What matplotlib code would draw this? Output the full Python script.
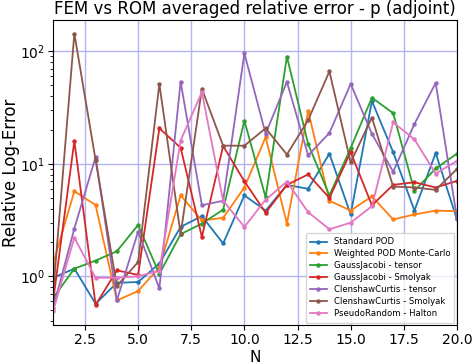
import matplotlib
matplotlib.use("Agg")
import matplotlib.pyplot as plt
from matplotlib.ticker import MultipleLocator, FormatStrFormatter

N = list(range(1, 21))
standard_pod = [0.97, 1.17, 0.57, 0.875, 0.89, 1.3, 2.75, 3.43, 1.96, 5.24,
                3.84, 6.5, 6.0, 12.3, 3.55, 36.2, 12.7, 3.84, 12.5, 3.2]
weighted_pod = [1.3, 5.7, 4.3, 0.61, 0.74, 1.2, 5.24, 3.14, 3.31, 6.16,
                17.3, 2.94, 29.6, 4.7, 3.84, 5.13, 3.2, 3.55, 3.84, 3.79]
gj_tensor = [0.64, 1.17, 1.38, 1.67, 2.86, 1.05, 2.37, 2.94, 3.92, 24.2,
             5.03, 89.8, 15.0, 5.24, 13.8, 38.7, 28.2, 5.75, 9.1, 12.3]
gj_smolyak = [0.6, 16.0, 0.557, 1.13, 1.03, 20.7, 13.9, 2.24, 14.4, 7.0,
              3.67, 6.5, 8.06, 4.97, 12.7, 4.28, 6.5, 6.86, 6.16, 7.05]
cc_tensor = [0.52, 2.66, 11.5, 0.61, 2.5, 0.78, 53.8, 4.28, 4.7, 96.0,
             18.5, 53.5, 11.9, 18.8, 51.4, 18.5, 8.5, 22.6, 52.4, 3.3]
cc_smolyak = [0.7, 144.0, 10.8, 0.82, 1.34, 51.4, 2.37, 46.4, 14.5, 14.5,
              20.7, 12.1, 24.5, 66.3, 10.3, 25.8, 6.28, 6.16, 5.87, 8.98]
halton = [0.49, 2.21, 0.97, 0.97, 1.0, 1.12, 16.1, 43.4, 4.7, 2.75,
          4.8, 6.95, 3.72, 2.62, 3.0, 4.2, 23.4, 16.5, 8.2, 10.6]

series = [
    ("Standard POD", standard_pod, "#1f77b4"),
    ("Weighted POD Monte-Carlo", weighted_pod, "#ff7f0e"),
    ("GaussJacobi - tensor", gj_tensor, "#2ca02c"),
    ("GaussJacobi - Smolyak", gj_smolyak, "#d62728"),
    ("ClenshawCurtis - tensor", cc_tensor, "#9467bd"),
    ("ClenshawCurtis - Smolyak", cc_smolyak, "#8c564b"),
    ("PseudoRandom - Halton", halton, "#e377c2"),
]

fig = plt.figure(figsize=(4.74, 3.64), dpi=100)
ax = fig.add_axes([0.112, 0.107, 0.852, 0.839])
for label, vals, c in series:
    ax.plot(N, vals, marker="o", markersize=2.2, linewidth=1.3, color=c, label=label)
ax.set_yscale("log")
ax.set_xlim(1, 20)
ax.xaxis.set_major_locator(MultipleLocator(2.5))
ax.xaxis.set_major_formatter(FormatStrFormatter("%.1f"))
ax.grid(True, which="major", color="#b4b4f0", linewidth=1.0)
ax.set_title("FEM vs ROM averaged relative error - p (adjoint)", fontsize=12, pad=4)
ax.set_xlabel("N", fontsize=11)
ax.set_ylabel("Relative Log-Error", fontsize=12)
ax.xaxis.set_label_coords(0.5, -0.082)
ax.yaxis.set_label_coords(-0.081, 0.5)
ax.tick_params(axis="both", labelsize=10, pad=2)
ax.legend(loc="lower right", fontsize=6.1, handlelength=2.0, borderpad=0.5,
          labelspacing=0.35, borderaxespad=0.3)
fig.savefig("out.png", dpi=100)
